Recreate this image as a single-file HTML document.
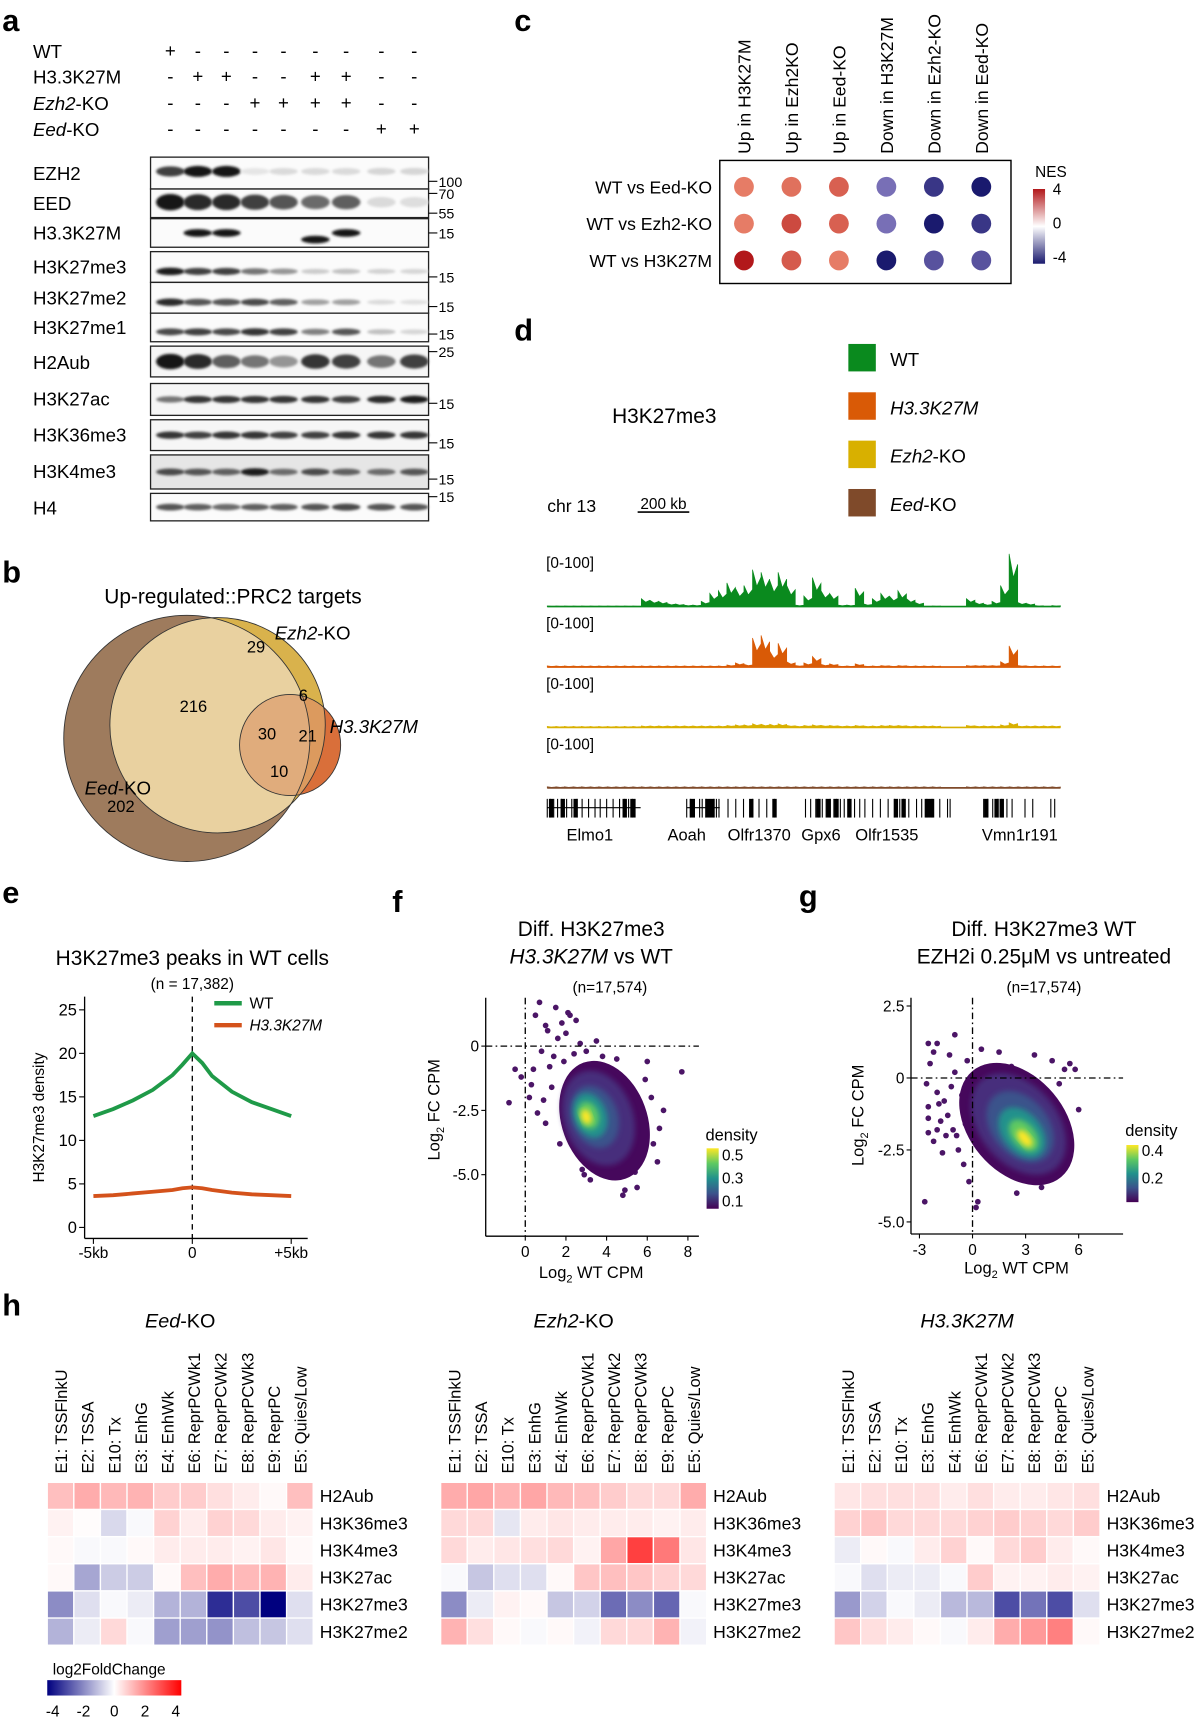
<!DOCTYPE html>
<html><head><meta charset="utf-8"><title>Figure</title>
<style>
html,body{margin:0;padding:0;background:#fff;}
svg{display:block;font-family:"Liberation Sans",Arial,sans-serif;}
</style></head>
<body>
<svg id="fig" xmlns="http://www.w3.org/2000/svg" width="1200" height="1723" viewBox="0 0 1092 1568" preserveAspectRatio="none">
<defs>
<clipPath id="clipBrown"><circle cx="170" cy="672" r="112"/></clipPath>
<clipPath id="clipYellow"><circle cx="198" cy="660" r="98"/></clipPath>
<filter id="soft" x="-20%" y="-20%" width="140%" height="140%"><feGaussianBlur stdDeviation="2.5"/></filter>
<filter id="bandblur" x="-20%" y="-50%" width="140%" height="200%"><feGaussianBlur stdDeviation="1.2"/></filter>
<linearGradient id="viridis" x1="0" y1="1" x2="0" y2="0">
<stop offset="0" stop-color="#440154"/><stop offset="0.25" stop-color="#3b528b"/><stop offset="0.5" stop-color="#21918c"/><stop offset="0.75" stop-color="#5ec962"/><stop offset="1" stop-color="#fde725"/></linearGradient>
<linearGradient id="nesgrad" x1="0" y1="1" x2="0" y2="0">
<stop offset="0" stop-color="#1a1a6e"/><stop offset="0.5" stop-color="#ffffff"/><stop offset="1" stop-color="#b2181b"/></linearGradient>
<linearGradient id="fcgrad" x1="0" y1="0" x2="1" y2="0">
<stop offset="0" stop-color="#00007f"/><stop offset="0.5" stop-color="#ffffff"/><stop offset="1" stop-color="#ff0000"/></linearGradient>
</defs>

<g font-weight="bold" font-size="28">
<text x="2" y="28">a</text>
<text x="2" y="530">b</text>
<text x="468" y="28">c</text>
<text x="468" y="310">d</text>
<text x="2" y="822">e</text>
<text x="357" y="830">f</text>
<text x="727" y="825">g</text>
<text x="2" y="1197">h</text>
</g>

<g id="panelA"></g>
<g id="panelB">
<text x="212" y="549" font-size="19" text-anchor="middle">Up-regulated::PRC2 targets</text>
<circle cx="170" cy="672" r="112" fill="#9e7b5d"/>
<circle cx="198" cy="660" r="98" fill="#d9b24c"/>
<circle cx="198" cy="660" r="98" fill="#e9d1a0" clip-path="url(#clipBrown)"/>
<circle cx="264" cy="678" r="46" fill="#d96f3a"/>
<g clip-path="url(#clipBrown)"><circle cx="264" cy="678" r="46" fill="#d4a48e"/></g>
<g clip-path="url(#clipYellow)"><circle cx="264" cy="678" r="46" fill="#dc9a5e"/></g>
<g clip-path="url(#clipBrown)"><g clip-path="url(#clipYellow)"><circle cx="264" cy="678" r="46" fill="#e0ac7c"/></g></g>
<g fill="none" stroke="#333" stroke-width="0.8">
<circle cx="170" cy="672" r="112"/><circle cx="198" cy="660" r="98"/><circle cx="264" cy="678" r="46"/></g>
<g font-size="15" text-anchor="middle">
<text x="176" y="648">216</text><text x="233" y="594">29</text><text x="276" y="638">6</text>
<text x="243" y="673">30</text><text x="280" y="675">21</text><text x="254" y="707">10</text><text x="110" y="739">202</text></g>
<text x="250" y="582" font-size="17"><tspan font-style="italic">Ezh2</tspan>-KO</text>
<text x="300" y="667" font-size="17" font-style="italic">H3.3K27M</text>
<text x="77" y="723" font-size="17"><tspan font-style="italic">Eed</tspan>-KO</text>
</g>
<g id="panelC"></g>
<g id="panelD"></g>
<g id="panelE"></g>
<g id="panelF"></g>
<g id="panelG"></g>
<g id="panelH"></g>
</svg>

<script>
// ===== Panel a data =====
const blotSamples = ["WT","H3.3K27M","Ezh2-KO","Eed-KO"];
const blotSigns = [
 ["+","-","-","-","-","-","-","-","-"],
 ["-","+","+","-","-","+","+","-","-"],
 ["-","-","-","+","+","+","+","-","-"],
 ["-","-","-","-","-","-","-","+","+"]];
const blotRows = ["EZH2","EED","H3.3K27M","H3K27me3","H3K27me2","H3K27me1","H2Aub","H3K27ac","H3K36me3","H3K4me3","H4"];
const blotIntensity = [
 [0.8,1,1,0.03,0.08,0.08,0.08,0.1,0.1],
 [1,0.9,0.9,0.8,0.7,0.6,0.65,0.08,0.06],
 [0,1,1,0,0,1,1,0,0],
 [0.95,0.8,0.8,0.55,0.4,0.15,0.2,0.12,0.1],
 [0.9,0.7,0.7,0.75,0.65,0.35,0.35,0.08,0.05],
 [0.75,0.8,0.75,0.85,0.8,0.5,0.7,0.2,0.1],
 [1,0.9,0.65,0.55,0.4,0.85,0.8,0.55,0.8],
 [0.55,0.85,0.85,0.85,0.85,0.85,0.8,0.9,0.95],
 [0.85,0.8,0.85,0.85,0.8,0.8,0.85,0.85,0.85],
 [0.75,0.7,0.65,0.95,0.6,0.75,0.65,0.6,0.7],
 [0.7,0.65,0.6,0.65,0.65,0.7,0.75,0.7,0.7]];
const blotMarkers = [["100"],["70","55"],["15"],["15"],["15"],["15"],["25"],["15"],["15"],["15"],["15"]];

// ===== Panel c data =====
const gseaCols = ["Up in H3K27M","Up in Ezh2KO","Up in Eed-KO","Down in H3K27M","Down in Ezh2-KO","Down in Eed-KO"];
const gseaRows = ["WT vs Eed-KO","WT vs Ezh2-KO","WT vs H3K27M"];
const nesEed = [2.2,2.4,2.7,-2.2,-3.4,-4];
const nesEzh2 = [2.2,3.1,2.7,-2.2,-4,-3.4];
const nesK27M = [4,2.8,2.2,-4,-2.8,-2.8];

// ===== Panel d data =====
const trackNames = ["WT","H3.3K27M","Ezh2-KO","Eed-KO"];
const sigWT = [1,1,1,1,1,1,1,1,1,1,1,15,12,10,6,5,3,3,10,25,30,45,35,40,70,65,50,65,40,3,20,55,30,25,3,3,35,5,15,25,20,30,15,8,1,1,0,0,0,15,8,5,10,40,100,8,6,2,1,2];
const sigK27M = [2,2,2,2,2,2,2,2,2,2,2,2,2,2,2,2,2,2,2,2,2,4,8,5,55,60,30,45,10,3,8,20,5,6,2,2,6,2,2,3,2,3,2,2,2,2,0,0,0,3,3,3,3,10,40,3,2,2,2,2];
const sigEzh2 = [2,2,2,2,2,2,2,2,2,2,2,3,3,3,3,3,3,3,3,3,3,4,5,5,7,6,6,7,4,3,4,5,4,4,3,3,4,3,3,4,4,4,3,3,3,3,0,0,0,4,3,3,3,5,9,3,3,3,3,3];
const sigEed = [2,2,2,2,2,2,2,2,2,2,2,2,2,2,2,2,2,2,2,2,2,2,2,2,2,2,2,2,2,2,2,2,2,2,2,2,2,2,2,2,2,2,2,2,2,2,0,0,0,2,2,2,2,2,2,2,2,2,2,2];
const geneTicksKb = [0,12,25,40,55,75,95,115,135,160,185,205,230,255,280,300,315,330,340,540,555,570,590,600,615,630,645,655,665,700,730,760,795,820,850,880,1000,1020,1040,1050,1065,1080,1095,1110,1120,1135,1150,1170,1190,1210,1230,1260,1290,1320,1345,1365,1380,1400,1430,1450,1470,1480,1490,1520,1550,1560,1690,1705,1725,1745,1760,1780,1800,1850,1880,1950,1965];
const geneThickKb = [15,60,110,300,330,560,620,640,790,880,1050,1090,1120,1170,1350,1380,1470,1490,1700,1740,1760];
const geneLabels = ["Elmo1","Aoah","Olfr1370","Gpx6","Olfr1535","Vmn1r191"];
const geneLabelKb = [165,540,821,1060,1315,1830];

// ===== Panel e data =====
const profX = [-5,-4,-3,-2,-1,-0.5,0,0.5,1,2,3,4,5];
const profWT = [12.8,13.6,14.6,15.8,17.5,18.7,20,18.9,17.4,15.6,14.4,13.6,12.8];
const profK27M = [3.6,3.7,3.9,4.1,4.3,4.5,4.6,4.5,4.3,4.0,3.8,3.7,3.6];
const profYTicks = [0,5,10,15,20,25];

// ===== Panel f data =====
const fOutX = [0.5,1.0,1.5,2.0,0.8,1.2,0.3,4.5,6.0,7.7,0.2,2.5,3.5,5.5,6.5,1.0,1.8,2.2,0.6,-0.2,5.0,6.3,4.8,1.3,0.9,2.8,5.8,3.0,1.6,2.4,1.1,0.7,6.6,6.2,5.9,4.2,3.8,2.7,1.9,1.4,0.4,-0.5,-0.8,2.1,3.2,4.9,5.4,6.8,1.7,2.9];
const fOutY = [1.2,0.8,1.5,0.5,-0.2,-0.8,-1.5,-0.5,-0.6,-1.0,-2.0,1.0,0.2,-5.5,-4.5,-3.0,0.9,1.2,-2.6,-1.2,-5.0,-3.8,-5.8,-1.6,-2.1,-4.8,-4.2,-0.2,0.3,-0.3,0.6,1.7,-3.2,-2.0,-1.3,-0.9,-0.4,0.1,-0.6,-0.4,-0.9,-0.9,-2.2,1.3,-5.2,-5.6,-4.9,-2.5,-3.8,-5.0];
const fCloudDensity = [0.05,0.1,0.2,0.3,0.4,0.55];
const fCloudCx = [3.9,3.6,3.4,3.2,3.1,3.0];
const fCloudCy = [-2.9,-2.8,-2.75,-2.7,-2.7,-2.75];
const fCloudSx = [2.1,1.7,1.15,0.8,0.5,0.25];
const fCloudSy = [2.4,1.9,1.25,0.9,0.55,0.3];
const fXTicks = [0,2,4,6,8];
const fYTicks = [0,-2.5,-5.0];

// ===== Panel g data =====
const gOutX = [-2.5,-2.0,-2.7,-1.5,-1.0,-2.0,5.5,-0.5,-2.4,-1.8,-1.2,-0.8,-2.2,-1.6,0.3,5.2,4.5,-2.6,-1.3,-0.4,0.2,-2.0,2.5,3.5,-2.5,-2.5,-2.5,-1.9,-1.4,-0.9,-0.6,-1.1,-1.7,-0.3,0.5,1.5,2.2,4.9,5.8,6.0,3.9,-2.2,-1.0,-0.2];
const gOutY = [-1.0,-0.5,-4.3,-2.0,1.5,1.2,0.5,-3.0,0.5,-1.5,-0.3,-2.5,0.9,-0.8,-4.3,0.3,0.6,-0.2,0.8,-1.6,-4.5,-1.8,-4.0,0.8,1.2,-1.9,-1.4,-0.9,-1.3,-2.0,-0.6,-1.8,-2.6,0.6,1.0,0.9,0.4,-0.2,0.3,-1.1,-3.8,-2.2,0.2,-3.6];
const gCloudDensity = [0.05,0.1,0.17,0.25,0.33,0.42];
const gCloudCx = [2.5,2.6,2.7,2.8,2.9,2.95];
const gCloudCy = [-1.6,-1.6,-1.7,-1.9,-2.0,-2.1];
const gCloudSx = [2.7,2.2,1.6,1.1,0.65,0.3];
const gCloudSy = [2.4,2.0,1.4,1.0,0.65,0.35];
const gXTicks = [-3,0,3,6];
const gYTicks = [2.5,0,-2.5,-5.0];

// ===== Panel h data =====
const stateLabels = ["E1: TSSFlnkU","E2: TSSA","E10: Tx","E3: EnhG","E4: EnhWk","E6: ReprPCWk1","E7: ReprPCWk2","E8: ReprPCWk3","E9: ReprPC","E5: Quies/Low"];
const markLabels = ["H2Aub","H3K36me3","H3K4me3","H3K27ac","H3K27me3","H3K27me2"];
const heatTitles = ["Eed-KO","Ezh2-KO","H3.3K27M"];
const fcEed = [
 [1.0,1.3,1.1,1.2,0.8,0.8,0.5,0.3,0.1,1.0],
 [0.2,0.05,-0.6,-0.1,0.7,0.3,0.7,0.6,0.3,0.2],
 [0.1,-0.1,-0.1,0.1,0.3,0.3,0.3,0.2,0.4,0.1],
 [0.1,-1.4,-0.8,-0.8,0.1,1.0,1.3,1.1,1.2,0.3],
 [-1.8,-0.5,-0.1,-0.3,-1.2,-1.2,-3.3,-2.8,-4.0,-0.5],
 [-1.2,-0.3,0.6,-0.1,-1.5,-1.5,-1.7,-1.0,-0.9,-0.5]];
const fcEzh2 = [
 [1.3,1.4,1.2,1.4,1.1,1.0,0.8,0.6,0.6,1.3],
 [0.6,0.6,-0.4,0.3,0.4,0.3,0.3,0.3,0.2,0.3],
 [0.6,0.3,0.4,0.5,0.6,0.2,1.4,3.0,2.1,0.4],
 [-0.1,-0.9,-0.5,-0.5,0.1,0.9,1.0,0.9,0.7,0.6],
 [-1.8,-0.3,0.2,0.1,-0.9,-0.7,-2.3,-1.8,-2.4,-0.1],
 [1.2,0.5,0.1,-0.1,0.1,-0.2,0.6,0.6,1.2,-0.2]];
const fcK27M = [
 [0.4,0.5,0.5,0.5,0.3,0.5,0.3,0.3,0.4,0.5],
 [0.7,0.9,0.6,0.6,0.6,0.7,0.8,0.7,0.6,0.8],
 [-0.3,0.1,-0.1,0.3,0.7,0.1,0.6,0.8,0.3,0.1],
 [-0.1,-0.5,-0.3,-0.3,-0.1,0.8,0.2,0.2,0.3,0.2],
 [-1.6,-0.7,-0.1,-0.3,-1.1,-1.1,-2.8,-2.2,-2.8,-0.5],
 [0.9,0.5,0.3,0.1,-0.1,0.3,1.3,1.6,2.0,0.1]];

// ===== helpers =====
const NS = "http://www.w3.org/2000/svg";
function mk(parent, tag, attrs, txt){
  const e = document.createElementNS(NS, tag);
  for (const k in attrs) e.setAttribute(k, attrs[k]);
  if (txt !== undefined) e.textContent = txt;
  parent.appendChild(e);
  return e;
}
function lerp(a,b,t){return Math.round(a+(b-a)*t);}
function fcColor(v){
  const t = Math.min(1, Math.abs(v)/4);
  if (v >= 0) return `rgb(255,${lerp(255,0,t)},${lerp(255,0,t)})`;
  return `rgb(${lerp(255,0,t)},${lerp(255,0,t)},${lerp(255,127,t)})`;
}
function nesColor(v){
  const t = Math.min(1, Math.abs(v)/4);
  if (v >= 0){
    if (t < 0.5){ const u=t/0.5; return `rgb(${lerp(255,236,u)},${lerp(255,135,u)},${lerp(255,110,u)})`; }
    const u=(t-0.5)/0.5; return `rgb(${lerp(236,178,u)},${lerp(135,24,u)},${lerp(110,27,u)})`;
  }
  if (t < 0.5){ const u=t/0.5; return `rgb(${lerp(255,130,u)},${lerp(255,120,u)},${lerp(255,190,u)})`; }
  const u=(t-0.5)/0.5; return `rgb(${lerp(130,26,u)},${lerp(120,26,u)},${lerp(190,110,u)})`;
}

// ===== Panel a =====
(function(){
  const g = document.getElementById("panelA");
  const lanes = [155,180,206,232,258,287,315,347,377];
  const rowY = [47,70,94,118];
  blotSamples.forEach((s,i)=>{
    let t;
    if (s.endsWith("-KO")){
      t = mk(g,"text",{x:30,y:rowY[i]+6,"font-size":17});
      mk(t,"tspan",{"font-style":"italic"}, s.replace("-KO",""));
      mk(t,"tspan",{}, "-KO");
    } else t = mk(g,"text",{x:30,y:rowY[i]+6,"font-size":17}, s);
    
    
    blotSigns[i].forEach((sg,j)=>{
      const st = mk(g,"text",{x:lanes[j],y:rowY[i]+5,"font-size":17,"text-anchor":"middle"}, sg);
      
      
    });
  });
  const boxes = [[143,172],[172,198],[199,225],[229,257],[257,285],[285,311],[315,343],[349,378],[382,410],[414,445],[449,474]];
  const labY = [158,185,212,243,271,298,330,363,396,429,462];
  const markY = [[165],[176,194],[212],[252],[279],[304],[320],[367],[403],[436],[452]];
  blotRows.forEach((r,i)=>{
    const [y0,y1] = boxes[i];
    const lab = mk(g,"text",{x:30,y:labY[i]+6,"font-size":17}, r);
    
    
    const bg = (i===9) ? "#e6e6e6" : (i===6||i===7||i===8) ? "#f6f6f6" : "#fbfbfb";
    const box = mk(g,"rect",{x:137,y:y0,width:253,height:y1-y0,fill:bg,stroke:"#222","stroke-width":1.2});
    
    
    const cy = (i===0)? y0+13 : (i===1)? y0+12 : (i===2)? y0+13 : (y0+y1)/2 + ((i>=3&&i<=5)?4:0);
    blotIntensity[i].forEach((v,j)=>{
      if (v<=0) return;
      const gray = Math.round(235 - 215*v);
      const h = (i===1)? 15 : (i===6)? 14 : (i===0)? 10 : 7;
      let by = cy;
      if (i===2 && j===5) by = cy+6;
      const b = mk(g,"ellipse",{cx:lanes[j],cy:by,rx:13,ry:h/2*(0.6+0.4*v),fill:`rgb(${gray},${gray},${gray})`,filter:"url(#bandblur)"});
      
      
    });
    blotMarkers[i].forEach((m,k)=>{
      const y = markY[i][k];
      mk(g,"line",{x1:390,y1:y,x2:398,y2:y,stroke:"#000","stroke-width":1});
      const mt = mk(g,"text",{x:399,y:y+5,"font-size":13}, m);
      
      
    });
  });
})();

// ===== Panel c =====
(function(){
  const g = document.getElementById("panelC");
  const x0 = 677, dx = 43.2, y0 = 170, dy = 33.5;
  mk(g,"rect",{x:655,y:146,width:265,height:112,fill:"none",stroke:"#000","stroke-width":1.3});
  gseaCols.forEach((c,j)=>{
    const t = mk(g,"text",{x:0,y:0,"font-size":16,transform:`translate(${x0+j*dx+6},140) rotate(-90)`}, c);
    
    
  });
  const rows = [nesEed,nesEzh2,nesK27M];
  gseaRows.forEach((r,i)=>{
    const t = mk(g,"text",{x:648,y:y0+i*dy+6,"font-size":16,"text-anchor":"end"}, r);
    
    
    rows[i].forEach((v,j)=>{
      const d = mk(g,"circle",{cx:x0+j*dx,cy:y0+i*dy,r:9,fill:nesColor(v)});
      
      
    });
  });
  const lt = mk(g,"text",{x:942,y:161,"font-size":14}, "NES");
  
  
  const bar = mk(g,"rect",{x:940,y:172,width:11,height:68,fill:"url(#nesgrad)"});
  
  
  [[4,176],[0,207],[-4,238]].forEach(([v,y])=>{
    const tt = mk(g,"text",{x:958,y:y+1,"font-size":14}, String(v));
    
    
  });
})();

// ===== Panel d =====
(function(){
  const g = document.getElementById("panelD");
  const colors = ["#0a8a1e","#d95a06","#d8b000","#7f4a2a"];
  const legY = [327,371,415,459];
  trackNames.forEach((n,i)=>{
    const r = mk(g,"rect",{x:772,y:legY[i]-14,width:25,height:25,fill:colors[i]});
    
    
    let t = mk(g,"text",{x:810,y:legY[i]+6,"font-size":17});
    if (n==="WT") t.textContent = "WT";
    else if (n==="H3.3K27M"){ t.textContent = n; t.setAttribute("font-style","italic"); }
    else { mk(t,"tspan",{"font-style":"italic"}, n.replace("-KO","")); mk(t,"tspan",{}, "-KO"); }
    
    
  });
  const ttl = mk(g,"text",{x:557,y:385,"font-size":19}, "H3K27me3");
  
  
  const chr = mk(g,"text",{x:498,y:466,"font-size":16}, "chr 13");
  
  
  const kbToPx = kb => 498 + kb*0.235;
  const sb = mk(g,"line",{x1:kbToPx(350),y1:466,x2:kbToPx(550),y2:466,stroke:"#000","stroke-width":1.5});
  
  
  const sbt = mk(g,"text",{x:kbToPx(450),y:463,"font-size":14,"text-anchor":"middle"}, "200 kb");
  
  
  const sigs = [sigWT,sigK27M,sigEzh2,sigEed];
  const base = [552,607,662,717];
  const binW = 467/sigWT.length;
  sigs.forEach((s,i)=>{
    const rl = mk(g,"text",{x:497,y:base[i]-35,"font-size":14}, "[0-100]");
    
    
    let d = `M498,${base[i]}`;
    s.forEach((v,k)=>{
      const h = v/100*48;
      const x = 498 + k*binW;
      d += ` L${x.toFixed(1)},${(base[i]-h).toFixed(1)} L${(x+binW*0.5).toFixed(1)},${(base[i]-h*0.55).toFixed(1)} L${(x+binW).toFixed(1)},${(base[i]-h*0.8).toFixed(1)}`;
    });
    d += ` L965,${base[i]} Z`;
    const p = mk(g,"path",{d:d,fill:colors[i],stroke:colors[i],"stroke-width":0.6});
    
    
    const bl = mk(g,"line",{x1:498,y1:base[i],x2:965,y2:base[i],stroke:colors[i],"stroke-width":1.5});
    
    
  });
  mk(g,"line",{x1:498,y1:735,x2:583,y2:735,stroke:"#000","stroke-width":1});
  mk(g,"line",{x1:625,y1:735,x2:655,y2:735,stroke:"#000","stroke-width":1});
  geneTicksKb.forEach(kb=>{
    const l = mk(g,"line",{x1:kbToPx(kb),y1:727,x2:kbToPx(kb),y2:744,stroke:"#000","stroke-width":1});
    
    
  });
  geneThickKb.forEach(kb=>{
    const r = mk(g,"rect",{x:kbToPx(kb)-2,y:727,width:4,height:17,fill:"#000"});
    
    
  });
  geneLabels.forEach((n,i)=>{
    const t = mk(g,"text",{x:kbToPx(geneLabelKb[i]),y:765,"font-size":15,"text-anchor":"middle"}, n);
    
    
  });
})();

// ===== Panel e =====
(function(){
  const g = document.getElementById("panelE");
  const X = v => 85 + (v+5)/10*180;
  const Y = v => 1117 - v*7.92;
  const t1 = mk(g,"text",{x:175,y:878,"font-size":19,"text-anchor":"middle"}, "H3K27me3 peaks in WT cells");
  
  
  const t2 = mk(g,"text",{x:175,y:900,"font-size":14,"text-anchor":"middle"}, "(n = 17,382)");
  
  
  mk(g,"line",{x1:77,y1:907,x2:77,y2:1127,stroke:"#000","stroke-width":1.2});
  mk(g,"line",{x1:77,y1:1127,x2:280,y2:1127,stroke:"#000","stroke-width":1.2});
  profYTicks.forEach(v=>{
    mk(g,"line",{x1:72,y1:Y(v),x2:77,y2:Y(v),stroke:"#000"});
    const t = mk(g,"text",{x:70,y:Y(v)+5,"font-size":15,"text-anchor":"end"}, String(v));
    
    
  });
  [[-5,"-5kb"],[0,"0"],[5,"+5kb"]].forEach(([v,l])=>{
    mk(g,"line",{x1:X(v),y1:1127,x2:X(v),y2:1132,stroke:"#000"});
    const t = mk(g,"text",{x:X(v),y:1145,"font-size":14,"text-anchor":"middle"}, l);
    
    
  });
  const yt = mk(g,"text",{x:0,y:0,"font-size":14,"text-anchor":"middle",transform:"translate(40,1017) rotate(-90)"}, "H3K27me3 density");
  
  
  mk(g,"line",{x1:X(0),y1:907,x2:X(0),y2:1127,stroke:"#000","stroke-dasharray":"5,4","stroke-width":1.2});
  const lw = mk(g,"polyline",{points:profX.map((x,i)=>`${X(x)},${Y(profWT[i])}`).join(" "),fill:"none",stroke:"#1f9a48","stroke-width":3.5});
  
  
  const lk = mk(g,"polyline",{points:profX.map((x,i)=>`${X(x)},${Y(profK27M[i])}`).join(" "),fill:"none",stroke:"#d4521b","stroke-width":3.5});
  
  
  mk(g,"line",{x1:195,y1:913,x2:220,y2:913,stroke:"#1f9a48","stroke-width":4});
  mk(g,"line",{x1:195,y1:933,x2:220,y2:933,stroke:"#d4521b","stroke-width":4});
  const l1 = mk(g,"text",{x:227,y:918,"font-size":14}, "WT");
  
  
  const l2 = mk(g,"text",{x:227,y:938,"font-size":14,"font-style":"italic"}, "H3.3K27M");
  
  
})();

// ===== scatter helper =====
function scatter(g, cfg){
  const X = v => cfg.x0 + (v-cfg.xv0)*cfg.xs;
  const Y = v => cfg.y0 - (v-cfg.yv0)*cfg.ys;
  const vir = ["#46085c","#472d7b","#3b528b","#21918c","#5ec962","#fde725"];
  mk(g,"line",{x1:cfg.ax,y1:cfg.ayTop,x2:cfg.ax,y2:cfg.ay,stroke:"#000","stroke-width":1.2});
  mk(g,"line",{x1:cfg.ax,y1:cfg.ay,x2:cfg.axR,y2:cfg.ay,stroke:"#000","stroke-width":1.2});
  cfg.xt.forEach(v=>{
    mk(g,"line",{x1:X(v),y1:cfg.ay,x2:X(v),y2:cfg.ay+4,stroke:"#000"});
    const t = mk(g,"text",{x:X(v),y:cfg.ay+19,"font-size":14,"text-anchor":"middle"}, String(v));
    
    
  });
  cfg.yt.forEach(v=>{
    mk(g,"line",{x1:cfg.ax-4,y1:Y(v),x2:cfg.ax,y2:Y(v),stroke:"#000"});
    const t = mk(g,"text",{x:cfg.ax-6,y:Y(v)+5,"font-size":14,"text-anchor":"end"}, (v===0)?"0":v.toFixed(1));
    
    
  });
  cfg.ox.forEach((x,i)=>{
    const p = mk(g,"circle",{cx:X(x),cy:Y(cfg.oy[i]),r:2.6,fill:"#4b1566"});
    
    
  });
  cfg.dens.forEach((d,i)=>{
    const e = mk(g,"ellipse",{cx:X(cfg.cx[i]),cy:Y(cfg.cy[i]),rx:cfg.sx[i]*cfg.xs,ry:cfg.sy[i]*cfg.ys,fill:vir[i],transform:`rotate(${cfg.rot} ${X(cfg.cx[i])} ${Y(cfg.cy[i])})`,filter:i===0?"":"url(#soft)"});
    
    
  });
  mk(g,"line",{x1:X(0),y1:cfg.ayTop,x2:X(0),y2:cfg.ay,stroke:"#000","stroke-dasharray":"6,3,1.5,3","stroke-width":1.2});
  mk(g,"line",{x1:cfg.ax,y1:Y(0),x2:cfg.axR,y2:Y(0),stroke:"#000","stroke-dasharray":"6,3,1.5,3","stroke-width":1.2});
}

// ===== Panel f =====
(function(){
  const g = document.getElementById("panelF");
  const t1 = mk(g,"text",{x:538,y:852,"font-size":19,"text-anchor":"middle"}, "Diff. H3K27me3");
  
  
  const t2 = mk(g,"text",{x:538,y:877,"font-size":19,"text-anchor":"middle"});
  mk(t2,"tspan",{"font-style":"italic"},"H3.3K27M"); mk(t2,"tspan",{}," vs WT");
  
  
  const t3 = mk(g,"text",{x:555,y:903,"font-size":14,"text-anchor":"middle"}, "(n=17,574)");
  
  
  scatter(g,{x0:478,xv0:0,xs:18.5,y0:952,yv0:0,ys:23.4,ax:442,ayTop:908,ay:1125,axR:636,xt:fXTicks,yt:fYTicks,ox:fOutX,oy:fOutY,dens:fCloudDensity,cx:fCloudCx,cy:fCloudCy,sx:fCloudSx,sy:fCloudSy,rot:-20});
  const xt = mk(g,"text",{x:538,y:1163,"font-size":15,"text-anchor":"middle"});
  mk(xt,"tspan",{},"Log"); mk(xt,"tspan",{"font-size":10,dy:4},"2"); mk(xt,"tspan",{dy:-4}," WT CPM");
  
  
  const yt = mk(g,"text",{x:0,y:0,"font-size":15,"text-anchor":"middle",transform:"translate(400,1010) rotate(-90)"});
  mk(yt,"tspan",{},"Log"); mk(yt,"tspan",{"font-size":10,dy:4},"2"); mk(yt,"tspan",{dy:-4}," FC CPM");
  
  
  const lt = mk(g,"text",{x:642,y:1038,"font-size":15}, "density");
  
  
  const cb = mk(g,"rect",{x:643,y:1045,width:11,height:55,fill:"url(#viridis)"});
  
  
  [["0.5",1056],["0.3",1077],["0.1",1098]].forEach(([l,y])=>{
    const t = mk(g,"text",{x:657,y:y,"font-size":14}, l);
    
    
  });
})();

// ===== Panel g =====
(function(){
  const g = document.getElementById("panelG");
  const t1 = mk(g,"text",{x:950,y:852,"font-size":19,"text-anchor":"middle"}, "Diff. H3K27me3 WT");
  
  
  const t2 = mk(g,"text",{x:950,y:877,"font-size":19,"text-anchor":"middle"}, "EZH2i 0.25μM vs untreated");
  
  
  const t3 = mk(g,"text",{x:950,y:903,"font-size":14,"text-anchor":"middle"}, "(n=17,574)");
  
  
  scatter(g,{x0:885,xv0:0,xs:16.1,y0:981,yv0:0,ys:26.2,ax:829,ayTop:908,ay:1123,axR:1022,xt:gXTicks,yt:gYTicks,ox:gOutX,oy:gOutY,dens:gCloudDensity,cx:gCloudCx,cy:gCloudCy,sx:gCloudSx,sy:gCloudSy,rot:-40});
  const xt = mk(g,"text",{x:925,y:1159,"font-size":15,"text-anchor":"middle"});
  mk(xt,"tspan",{},"Log"); mk(xt,"tspan",{"font-size":10,dy:4},"2"); mk(xt,"tspan",{dy:-4}," WT CPM");
  
  
  const yt = mk(g,"text",{x:0,y:0,"font-size":15,"text-anchor":"middle",transform:"translate(786,1015) rotate(-90)"});
  mk(yt,"tspan",{},"Log"); mk(yt,"tspan",{"font-size":10,dy:4},"2"); mk(yt,"tspan",{dy:-4}," FC CPM");
  
  
  const lt = mk(g,"text",{x:1024,y:1034,"font-size":15}, "density");
  
  
  const cb = mk(g,"rect",{x:1025,y:1042,width:11,height:52,fill:"url(#viridis)"});
  
  
  [["0.4",1052],["0.2",1077]].forEach(([l,y])=>{
    const t = mk(g,"text",{x:1039,y:y,"font-size":14}, l);
    
    
  });
})();

// ===== Panel h =====
(function(){
  const g = document.getElementById("panelH");
  const mats = [fcEed,fcEzh2,fcK27M];
  const lefts = [43,401,759];
  const cw = 24.2, rh = 24.7, top = 1349;
  mats.forEach((m,p)=>{
    const L = lefts[p];
    const tt = mk(g,"text",{x:L+121,y:1208,"font-size":18,"text-anchor":"middle"});
    const name = heatTitles[p];
    if (name.endsWith("-KO")){ mk(tt,"tspan",{"font-style":"italic"},name.replace("-KO","")); mk(tt,"tspan",{},"-KO"); }
    else { tt.textContent = name; tt.setAttribute("font-style","italic"); }
    
    
    stateLabels.forEach((s,j)=>{
      const t = mk(g,"text",{x:0,y:0,"font-size":15,transform:`translate(${L+j*cw+cw/2+6},1341) rotate(-90)`}, s);
      
      
    });
    m.forEach((row,i)=>{
      row.forEach((v,j)=>{
        const c = mk(g,"rect",{x:L+j*cw,y:top+i*rh,width:cw,height:rh,fill:fcColor(v),stroke:"#fff","stroke-width":1.2});
        
        
      });
      const rl = mk(g,"text",{x:L+10*cw+6,y:top+i*rh+18,"font-size":16}, markLabels[i]);
      
      
    });
  });
  const lt = mk(g,"text",{x:48,y:1524,"font-size":14}, "log2FoldChange");
  
  
  const bar = mk(g,"rect",{x:43,y:1529,width:122,height:14,fill:"url(#fcgrad)"});
  
  
  [-4,-2,0,2,4].forEach((v,k)=>{
    const x = 48 + k*28;
    const t = mk(g,"text",{x:x,y:1562,"font-size":14,"text-anchor":"middle"}, String(v));
    
    
  });
})();
</script>
</body></html>
